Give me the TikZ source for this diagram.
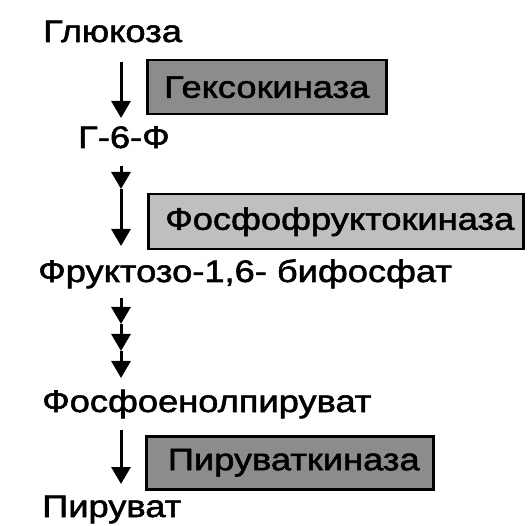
\documentclass[tikz,border=0pt]{standalone}
\usepackage{fontspec}
\setmainfont[FakeStretch=1.17,FakeBold=1.8]{Liberation Sans}
\usetikzlibrary{arrows.meta}

\begin{document}
\begin{tikzpicture}[x=1pt,y=-1pt,
  met/.style={anchor=base west,inner sep=0pt,font=\fontsize{31}{36}\selectfont},
  enz/.style={draw,line width=2.5pt,anchor=north west,inner sep=0pt,font=\fontsize{31}{36}\selectfont},
  arr/.style={line width=3pt,-{Triangle[width=19pt,length=17pt]}}]
\useasboundingbox (0,0) rectangle (530,526);
% metabolites
\node[met] (glc) at (43,42) {Глюкоза};
\node[met] (g6p) at (78,148) {Г-6-Ф};
\node[met] (fbp) at (38,282) {Фруктозо-1,6- бифосфат};
\node[met] (pep) at (42,412) {Фосфоенолпируват};
\node[met] (pyr) at (42,517) {Пируват};
% enzymes
\node[enz,fill=black!45,minimum width=239pt,minimum height=54pt] (hk) at (146,59) {Гексокиназа};
\node[enz,fill=black!25,minimum width=375pt,minimum height=55pt,xshift=0pt] (pfk) at (147,193) {\hspace{8pt}Фосфофруктокиназа};
\node[enz,fill=black!45,minimum width=287pt,minimum height=53pt] (pk) at (145,435) {\hspace{8pt}Пируваткиназа};
% arrows
\coordinate (a1) at (121,62);\coordinate (a2) at (121,118);
\coordinate (b1) at (121,166);\coordinate (b2) at (121,189);\coordinate (b3) at (121,246);
\coordinate (c1) at (121,298);\coordinate (c2) at (121,324);\coordinate (c3) at (121,351);\coordinate (c4) at (121,378);
\coordinate (d1) at (121,430);\coordinate (d2) at (121,484);
\draw[arr] (a1)--(a2);
\draw[arr] (b1)--(b2);
\draw[arr] (b2)--(b3);
\draw[arr] (c1)--(c2);
\draw[arr] (c2)--(c3);
\draw[arr] (c3)--(c4);
\draw[arr] (d1)--(d2);
\end{tikzpicture}
\end{document}
